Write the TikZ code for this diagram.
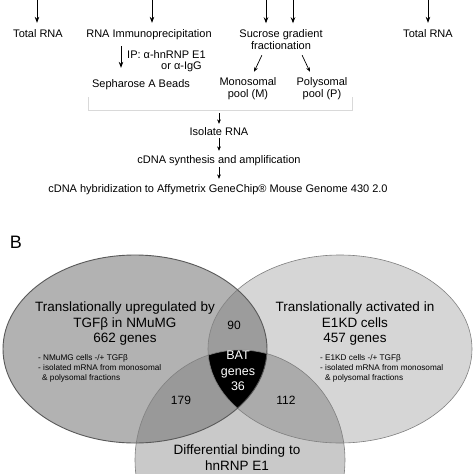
\documentclass[tikz,border=0pt]{standalone}
\usepackage{fontspec}
\setmainfont{Liberation Sans}
\usetikzlibrary{arrows.meta}
\definecolor{cL}{gray}{0.70}
\definecolor{cR}{gray}{0.84}
\definecolor{cB}{gray}{0.79}
\definecolor{cLR}{gray}{0.61}
\definecolor{cLB}{gray}{0.60}
\definecolor{cRB}{gray}{0.67}
\definecolor{edgeL}{gray}{0.35}
\definecolor{edgeO}{gray}{0.50}
\definecolor{brk}{gray}{0.85}
\begin{document}
\begin{tikzpicture}[x=1pt,y=-1pt,
  lbl/.style={font=\fontsize{11}{12}\selectfont, inner sep=1pt, align=center},
  head/.style={font=\fontsize{13.5}{15.5}\selectfont, inner sep=0pt, align=center},
  small/.style={font=\fontsize{8.2}{10}\selectfont, inner sep=0pt, align=left, anchor=north west},
  num/.style={font=\fontsize{12}{14}\selectfont, inner sep=0pt, anchor=base},
  arr/.style={-{Stealth[length=6pt,width=4.5pt]}, line width=0.8pt},
  sarr/.style={-{Stealth[length=4.5pt,width=3.8pt]}, line width=0.7pt},
  bracketline/.style={draw=brk, line width=0.8pt}]
\clip (0,0) rectangle (474,474);
\fill[white] (0,0) rectangle (474,474);

% ---------- Part A ----------
\coordinate (t1) at (37,0);
\coordinate (t2) at (152,0);
\coordinate (t3) at (266,0);
\coordinate (t4) at (293,0);
\coordinate (t5) at (428,0);

\node[lbl, anchor=base] (tot1) at (38,37) {Total RNA};
\node[lbl, anchor=base] (rip) at (149,37) {RNA Immunoprecipitation};
\node[lbl] (sgf) at (281,39.5) {Sucrose gradient\\fractionation};
\node[lbl, anchor=base] (tot2) at (428,37) {Total RNA};

\draw[arr, shorten >=5pt] (t1) -- (t1 |- tot1.north);
\draw[arr, shorten >=5pt] (t2) -- (t2 |- rip.north);
\draw[arr, shorten >=5pt] (t3) -- (t3 |- sgf.north);
\draw[arr, shorten >=5pt] (t4) -- (t4 |- sgf.north);
\draw[arr, shorten >=5pt] (t5) -- (t5 |- tot2.north);

\node[lbl, anchor=base west, inner sep=0pt] (ip1) at (127,58) {IP: α-hnRNP E1};
\node[lbl, anchor=base east, inner sep=0pt] (ip2) at (202,69) {or α-IgG};
\node[lbl, anchor=base] (sep) at (141,87) {Sepharose A Beads};
\draw[arr, shorten <=6pt, shorten >=10pt] (rip.south -| 121,0) -- (sep.north -| 121,0);

\node[lbl] (mono) at (248,88.5) {Monosomal\\pool (M)};
\node[lbl] (poly) at (322,88.5) {Polysomal\\pool (P)};
\draw[sarr, shorten <=5pt, shorten >=5pt] ([xshift=-17pt]sgf.south) -- ([xshift=4pt]mono.north);
\draw[sarr, shorten <=5pt, shorten >=5pt] ([xshift=19pt]sgf.south) -- ([xshift=-10pt]poly.north);

\coordinate (br1) at (88,97);
\coordinate (br2) at (88,110);
\coordinate (br3) at (352,110);
\coordinate (br4) at (352,97);
\coordinate (brm) at (219,110);
\draw[bracketline] (br1) -- (br2) -- (br3) -- (br4);

\node[lbl, anchor=base] (iso) at (219,135) {Isolate RNA};
\node[lbl, anchor=base] (cdna) at (219,163) {cDNA synthesis and amplification};
\node[lbl, anchor=base] (hyb) at (218,192) {cDNA hybridization to Affymetrix GeneChip® Mouse Genome 430 2.0};
\draw[sarr, shorten <=3pt, shorten >=2pt] (brm) -- (brm |- iso.north);
\draw[sarr, shorten <=2pt, shorten >=3pt] (iso.south -| 219,0) -- (cdna.north -| 219,0);
\draw[sarr, shorten <=1pt, shorten >=4pt] (cdna.south -| 219,0) -- (hyb.north -| 219,0);

% ---------- Part B ----------
\node[font=\fontsize{18}{20}\selectfont, inner sep=0pt, anchor=base] (lblB) at (16,248.5) {B};

\def\EL{(135,349) ellipse [x radius=132, y radius=94]}
\def\ER{(340,349) ellipse [x radius=132, y radius=94]}
\def\EB{(240,460) ellipse [x radius=105, y radius=110]}

\fill[cL] \EL;
\fill[cR] \ER;
\fill[cB] \EB;
\begin{scope}
  \clip \EL;
  \fill[cLR] \ER;
  \fill[cLB] \EB;
\end{scope}
\begin{scope}
  \clip \ER;
  \fill[cRB] \EB;
\end{scope}
\begin{scope}
  \clip \EL;
  \clip \ER;
  \fill[black] \EB;
\end{scope}
\draw[edgeO, line width=0.6pt] \EB;
\draw[edgeO, line width=0.6pt] \ER;
\draw[edgeL, line width=0.9pt] \EL;

\node[head] (hL) at (125,324) {Translationally upregulated by\\TGFβ in NMuMG\\662 genes};
\node[head] (hR) at (355,324) {Translationally activated in\\E1KD cells\\457 genes};
\node[head] (hB) at (237,457.5) {Differential binding to\\hnRNP E1};

\node[small] (sL) at (38,354) {- NMuMG cells -/+ TGFβ\\- isolated mRNA from monosomal\\\hspace*{4pt}\& polysomal fractions};
\node[small] (sR) at (320,354) {- E1KD cells -/+ TGFβ\\- isolated mRNA from monosomal\\\hspace*{5pt}\& polysomal fractions};

\node[num] (n90) at (234,329.5) {90};
\node[num] (n179) at (181,404.5) {179};
\node[num] (n112) at (286,404.5) {112};
\node[font=\fontsize{12.5}{15.5}\selectfont, inner sep=0pt, align=center, text=white] (bat) at (238,371) {BAT\\genes\\36};
\end{tikzpicture}
\end{document}
